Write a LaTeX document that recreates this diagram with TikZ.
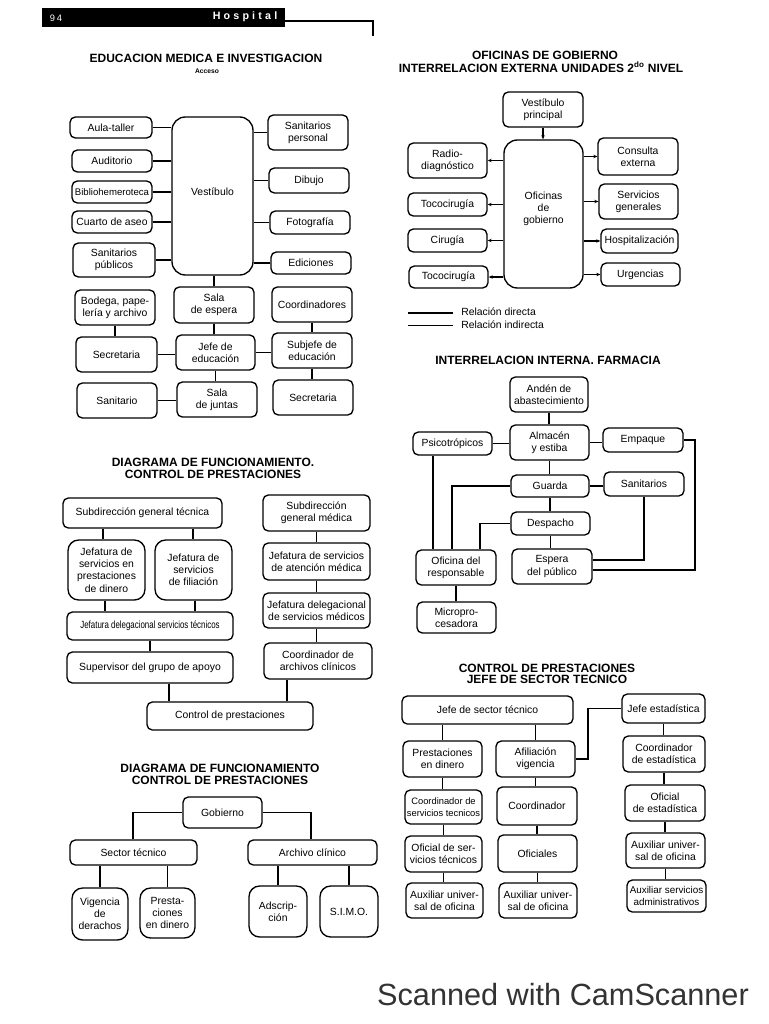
\documentclass[tikz,border=0pt]{standalone}
\usepackage{fontspec}
\usepackage{graphicx}
\setmainfont{Liberation Sans}
\usetikzlibrary{arrows.meta,calc}
\tikzset{
  bx/.style={draw,line width=1pt,rounded corners=4pt,inner sep=1pt,align=center,
    font=\fontsize{7.8}{9.2}\selectfont},
  ttl/.style={font=\fontsize{9}{10}\selectfont\bfseries,inner sep=0pt},
  ln/.style={line width=0.9pt},
  arr/.style={line width=0.9pt,-{Stealth[length=3pt,width=2.6pt]}},
}
\newcommand\bx[7][]{\node[bx,#1,minimum width={(#5-#3)*0.75pt},minimum height={(#6-#4)*0.75pt}] (#2) at ({(#3+#5)/2},{(#4+#6)/2}) {#7};}
\begin{document}
\begin{tikzpicture}[x=0.75pt,y=-0.75pt]
\fill[white] (0,0) rectangle (768,1024);
\useasboundingbox (0,0) rectangle (768,1024);
% header
\fill[black] (42,8) rectangle (285,27);
\node[text=white,font=\fontsize{7}{8}\selectfont\addfontfeature{LetterSpace=20}] (pg) at (56,18) {94};
\node[text=white,font=\fontsize{8}{9}\selectfont\bfseries\addfontfeature{LetterSpace=30}] (hd) at (245,17) {Hospital};
\draw[line width=1.3pt] (285,21) -- (373,21) -- (373,36);

% ===== Educacion medica
\node[ttl] (t1) at (206,58) {EDUCACION MEDICA E INVESTIGACION};
\node[font=\fontsize{5}{5}\selectfont\bfseries] (t1b) at (207,71) {Acceso};
\bx{aula}{70}{117}{152}{138}{Aula-taller}
\bx{audi}{72}{150}{152}{172}{Auditorio}
\bx[font=\fontsize{7.2}{8}\selectfont]{bibl}{72}{181}{152}{203}{Bibliohemeroteca}
\bx{cuar}{72}{211}{152}{233}{Cuarto de aseo}
\bx{sanp}{73}{243}{155}{277}{Sanitarios\\públicos}
\bx[rounded corners=10pt]{vest}{172}{117}{253}{275}{Vestíbulo\\[-2pt]\mbox{}}
\bx{sanper}{268}{115}{348}{150}{Sanitarios\\personal}
\bx{dib}{269}{168}{349}{193}{Dibujo}
\bx{foto}{270}{211}{350}{234}{Fotografía}
\bx{edic}{271}{252}{351}{274}{Ediciones}
\bx{bod}{75}{290}{155}{325}{Bodega, pape-\\lería y archivo}
\bx{sale}{174}{287}{254}{323}{Sala\\de espera}
\bx{coord}{272}{287}{352}{322}{Coordinadores}
\bx{secl}{76}{337}{157}{372}{Secretaria}
\bx{jefe}{176}{335}{255}{370}{Jefe de\\educación}
\bx{subj}{272}{333}{352}{368}{Subjefe de\\educación}
\bx{sani}{77}{383}{157}{418}{Sanitario}
\bx{salj}{177}{382}{257}{417}{Sala\\de juntas}
\bx{secr}{273}{380}{353}{415}{Secretaria}
\foreach \n in {aula,audi,bibl,cuar,sanp}{\draw[ln] (\n.east) -- (\n.east -| vest.west);}
\foreach \n in {sanper,dib,foto,edic}{\draw[ln] (\n.west) -- (\n.west -| vest.east);}
\draw[ln] (sale.north) -- (sale.north |- vest.south);
\draw[ln] (sale.south) -- (sale.south |- jefe.north);
\draw[ln] (jefe.south) -- (jefe.south |- salj.north);
\draw[ln] (bod.south) -- (bod.south |- secl.north);
\draw[ln] (secl.east) -- (secl.east -| jefe.west);
\draw[ln] (jefe.east) -- (jefe.east -| subj.west);
\draw[ln] (coord.south) -- (coord.south |- subj.north);
\draw[ln] (subj.south) -- (subj.south |- secr.north);
\draw[ln] (sani.east) -- (sani.east -| salj.west);

% ===== Oficinas de gobierno
\node[ttl] (t2) at (545,55) {OFICINAS DE GOBIERNO};
\node[ttl] (t2b) at (541,67) {INTERRELACION EXTERNA UNIDADES 2\textsuperscript{do} NIVEL};
\bx{vp}{503}{92}{583}{127}{Vestíbulo\\principal}
\bx[rounded corners=10pt]{og}{504}{140}{583}{288}{Oficinas\\de\\gobierno\\\mbox{}}
\bx{rad}{408}{143}{487}{178}{Radio-\\diagnóstico}
\bx{toc1}{408}{193}{487}{216}{Tococirugía}
\bx{cir}{408}{229}{487}{252}{Cirugía}
\bx{toc2}{409}{266}{488}{288}{Tococirugía}
\bx{cons}{598}{138}{678}{175}{Consulta\\externa}
\bx{serv}{599}{184}{678}{219}{Servicios\\generales}
\bx{hosp}{601}{229}{678}{253}{Hospitalización}
\bx{urg}{601}{263}{680}{286}{Urgencias}
\draw[arr] (vp.south) -- (vp.south |- og.north);
\foreach \n in {rad,toc1,cir,toc2}{\draw[arr] (og.west |- \n.east) -- (\n.east);}
\foreach \n in {cons,serv,hosp,urg}{\draw[arr] (og.east |- \n.west) -- (\n.west);}
\coordinate (l1a) at (408,313); \coordinate (l1b) at (453,313);
\coordinate (l2a) at (408,325); \coordinate (l2b) at (453,325);
\draw[line width=0.8pt] (l1a) -- (l1b);
\draw[line width=0.55pt] (l2a) -- (l2b);
\node[anchor=west,font=\fontsize{7.8}{9}\selectfont,inner sep=0pt] (lg1) at (461,312) {Relación directa};
\node[anchor=west,font=\fontsize{7.8}{9}\selectfont,inner sep=0pt] (lg2) at (461,325) {Relación indirecta};

% ===== Farmacia
\node[ttl] (t3) at (548,360) {INTERRELACION INTERNA. FARMACIA};
\bx{anden}{510}{377}{588}{412}{Andén de\\abastecimiento}
\bx{alm}{510}{425}{589}{460}{Almacén\\y estiba}
\bx{psi}{413}{432}{492}{455}{Psicotrópicos}
\bx{emp}{603}{428}{683}{452}{Empaque}
\bx{gua}{511}{475}{589}{497}{Guarda}
\bx{sant}{604}{472}{684}{496}{Sanitarios}
\bx{desp}{511}{512}{590}{535}{Despacho}
\bx{ofr}{416}{550}{496}{585}{Oficina del\\responsable}
\bx{esp}{512}{549}{592}{584}{Espera\\del público}
\bx{mic}{417}{602}{496}{633}{Micropro-\\cesadora}
\coordinate (fx1) at (433,0); \coordinate (fx2) at (452,0); \coordinate (fx3) at (480,0);
\coordinate (fx5) at (695,0); \coordinate (fy1) at (0,560); \coordinate (fy2) at (0,570);
\draw[ln] (anden.south) -- (anden.south |- alm.north);
\draw[ln] (psi.east) -- (psi.east -| alm.west);
\draw[ln] (alm.east) -- (alm.east -| emp.west);
\draw[ln] (alm.south) -- (alm.south |- gua.north);
\draw[ln] (gua.east) -- (gua.east -| sant.west);
\draw[ln] (gua.south) -- (gua.south |- desp.north);
\draw[ln] (desp.south) -- (desp.south |- esp.north);
\draw[ln] (psi.south -| fx1) -- (ofr.north -| fx1);
\draw[ln] (gua.west) -| (fx2 |- ofr.north);
\draw[ln] (desp.west) -| (fx3 |- ofr.north);
\draw[ln] (sant.south) |- (esp.east |- fy1);
\draw[ln] (emp.east) -- (fx5 |- emp.east) -- (fx5 |- fy2) -- (esp.east |- fy2);
\draw[ln] (ofr.south) -- (ofr.south |- mic.north);

% ===== Diagrama 1
\node[ttl] (t4) at (213,462) {DIAGRAMA DE FUNCIONAMIENTO.};
\node[ttl] (t4b) at (213,474) {CONTROL DE PRESTACIONES};
\bx{sgt}{63}{498}{222}{528}{Subdirección general técnica}
\bx[rounded corners=8pt]{jsp}{68}{540}{145}{600}{Jefatura de\\servicios en\\prestaciones\\de dinero}
\bx[rounded corners=8pt]{jsf}{155}{540}{232}{600}{Jefatura de\\servicios\\de filiación}
\bx{jdt}{67}{612}{233}{640}{\scalebox{0.76}[1]{Jefatura delegacional servicios técnicos}}
\bx{sup}{67}{652}{233}{683}{Supervisor del grupo de apoyo}
\bx{sgm}{263}{495}{370}{531}{Subdirección\\general médica}
\bx{jsa}{263}{543}{370}{580}{Jefatura de servicios\\de atención médica}
\bx{jdm}{263}{593}{370}{628}{Jefatura delegacional\\de servicios médicos}
\bx{cac}{264}{643}{372}{679}{Coordinador de\\archivos clínicos}
\bx{cp}{147}{702}{313}{730}{Control de prestaciones}
\coordinate (dx1) at (103,0); \coordinate (dx2) at (193,0); \coordinate (dx3) at (105,0);
\coordinate (dx4) at (195,0); \coordinate (dx5) at (150,0); \coordinate (dx6) at (169,0);
\coordinate (dx8) at (287,0);
\draw[ln] (sgt.south -| dx1) -- (jsp.north -| dx1);
\draw[ln] (sgt.south -| dx2) -- (jsf.north -| dx2);
\draw[ln] (jsp.south -| dx3) -- (jdt.north -| dx3);
\draw[ln] (jsf.south -| dx4) -- (jdt.north -| dx4);
\draw[ln] (jdt.south -| dx5) -- (sup.north -| dx5);
\draw[ln] (sup.south -| dx6) -- (cp.north -| dx6);
\draw[ln] (sgm.south) -- (sgm.south |- jsa.north);
\draw[ln] (jsa.south) -- (jsa.south |- jdm.north);
\draw[ln] (jdm.south) -- (jdm.south |- cac.north);
\draw[ln] (cac.south -| dx8) -- (cp.north -| dx8);

% ===== Control de prestaciones / Jefe de sector tecnico
\node[ttl] (t5) at (547,668) {CONTROL DE PRESTACIONES};
\node[ttl] (t5b) at (547,679) {JEFE DE SECTOR TECNICO};
\bx{jst}{402}{696}{573}{724}{Jefe de sector técnico}
\bx{ped}{403}{741}{482}{777}{Prestaciones\\en dinero}
\bx{afv}{496}{741}{575}{777}{Afiliación\\vigencia}
\bx{jes}{622}{694}{705}{723}{Jefe estadística}
\bx{ces}{623}{736}{705}{772}{Coordinador\\de estadística}
\bx[font=\fontsize{7}{8.6}\selectfont]{cst}{405}{790}{482}{824}{Coordinador de\\servicios tecnicos}
\bx{coo}{497}{787}{577}{825}{Coordinador}
\bx{oes}{625}{785}{705}{821}{Oficial\\de estadística}
\bx{ost}{405}{836}{482}{872}{Oficial de ser-\\vicios técnicos}
\bx{ofi}{498}{835}{577}{872}{Oficiales}
\bx{aur}{626}{833}{705}{868}{Auxiliar univer-\\sal de oficina}
\bx{aul}{406}{883}{483}{918}{Auxiliar univer-\\sal de oficina}
\bx{aum}{499}{883}{577}{918}{Auxiliar univer-\\sal de oficina}
\bx[font=\fontsize{7.4}{9}\selectfont]{asa}{627}{880}{706}{912}{Auxiliar servicios\\administrativos}
\coordinate (ex1) at (588,0);
\draw[ln] (ped.north) -- (ped.north |- jst.south);
\draw[ln] (afv.north) -- (afv.north |- jst.south);
\draw[ln] (afv.east) -- (ex1 |- afv.east) -- (ex1 |- jes.west) -- (jes.west);
\draw[ln] (ped.south) -- (ped.south |- cst.north);
\draw[ln] (cst.south) -- (cst.south |- ost.north);
\draw[ln] (ost.south) -- (ost.south |- aul.north);
\draw[ln] (afv.south) -- (afv.south |- coo.north);
\draw[ln] (coo.south) -- (coo.south |- ofi.north);
\draw[ln] (ofi.south) -- (ofi.south |- aum.north);
\draw[ln] (jes.south) -- (jes.south |- ces.north);
\draw[ln] (ces.south) -- (ces.south |- oes.north);
\draw[ln] (oes.south) -- (oes.south |- aur.north);
\draw[ln] (aur.south) -- (aur.south |- asa.north);

% ===== Diagrama 2
\node[ttl] (t6) at (220,768) {DIAGRAMA DE FUNCIONAMIENTO};
\node[ttl] (t6b) at (220,780) {CONTROL DE PRESTACIONES};
\bx{gob}{183}{797}{262}{828}{Gobierno}
\bx{sct}{70}{840}{197}{865}{Sector técnico}
\bx{arc}{248}{840}{377}{865}{Archivo clínico}
\bx[rounded corners=8pt]{vig}{72}{888}{128}{940}{Vigencia\\de\\derachos}
\bx[rounded corners=8pt]{pre}{140}{888}{195}{938}{Presta-\\ciones\\en dinero}
\bx[rounded corners=8pt]{ads}{249}{886}{307}{937}{Adscrip-\\ción}
\bx[rounded corners=8pt]{sim}{320}{886}{378}{937}{S.I.M.O.}
\coordinate (gx1) at (133,0); \coordinate (gx2) at (311,0);
\draw[ln] (gob.west) -| (gx1 |- sct.north);
\draw[ln] (gob.east) -| (gx2 |- arc.north);
\draw[ln] (vig.north) -- (vig.north |- sct.south);
\draw[ln] (pre.north) -- (pre.north |- sct.south);
\draw[ln] (ads.north) -- (ads.north |- arc.south);
\draw[ln] (sim.north) -- (sim.north |- arc.south);

% footer
\node[font=\fontsize{23}{26}\selectfont,text=black!80,inner sep=0pt] (ft) at (563,995) {Scanned with CamScanner};
\end{tikzpicture}
\end{document}
